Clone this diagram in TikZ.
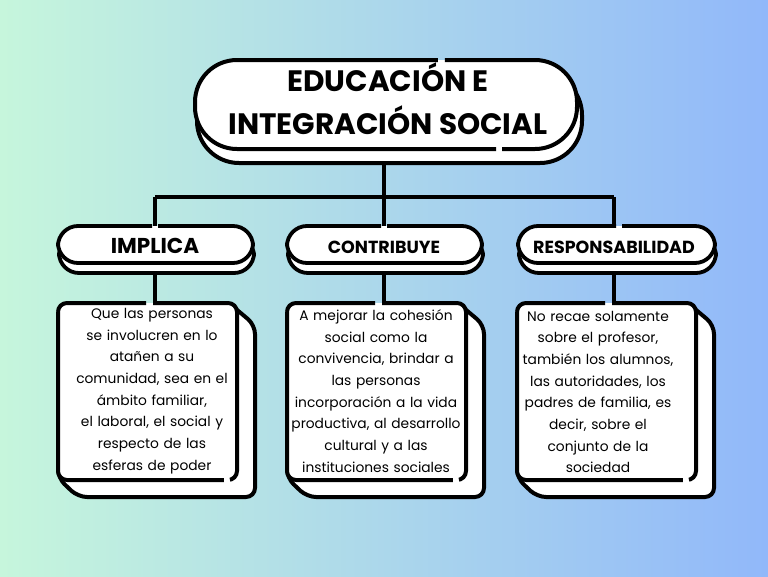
\documentclass[tikz,border=0pt]{standalone}
\usepackage{fontspec}
\setmainfont{Poppins}
\begin{document}
\begin{tikzpicture}[x=1pt,y=-1pt,
  edge/.style={line width=3.5pt},
  pill/.style={draw,fill=white,line width=3.8pt,rounded corners=20pt},
  bigpill/.style={draw,fill=white,line width=4pt,rounded corners=42pt},
  card/.style={draw,fill=white,line width=4pt,rounded corners=9pt},
  gapped/.style={dash pattern=on 330pt off 6pt on 260pt off 7pt on 400pt off 6pt},
  title/.style={font=\bfseries\fontsize{29.5}{43}\selectfont,align=center},
  head/.style={font=\bfseries\fontsize{17.5}{19}\selectfont},
  body/.style={font=\fontsize{13.8}{21.7}\selectfont,align=center,text width=200pt}]
\useasboundingbox (0,0) rectangle (768,576);
\shade[left color={rgb,255:red,198;green,246;blue,220},right color={rgb,255:red,145;green,184;blue,250}] (0,0) rectangle (768,576);

% title
\draw[bigpill] (197,73) rectangle (582,163);
\draw[bigpill,gapped] (195,60) rectangle (577,149);
\node[title] (t) at (388,99) {EDUCACIÓN E\\INTEGRACIÓN SOCIAL};
\coordinate (tb) at (384,165);

% level 2
\draw[pill] (59,236) rectangle (254,273);
\draw[pill,gapped] (58,226) rectangle (253,263);
\node[head,font=\bfseries\fontsize{21.5}{23}\selectfont] (h1) at (155,246) {IMPLICA};
\draw[pill] (288,236) rectangle (483,273);
\draw[pill,gapped] (287,226) rectangle (482,263);
\node[head] (h2) at (384,247) {CONTRIBUYE};
\draw[pill] (519,236) rectangle (716,273);
\draw[pill,gapped] (518,226) rectangle (715,263);
\node[head] (h3) at (614,247) {RESPONSABILIDAD};

\coordinate (j) at (384,197);
\coordinate (j1) at (155,197);
\coordinate (j3) at (614,197);
\draw[edge] (tb) -- (j);
\draw[edge] (j1) -- (j3);
\draw[edge] (j1) -- (155,226);
\draw[edge] (j) -- (384,226);
\draw[edge] (j3) -- (614,226);

% level 3 cards
\foreach \x/\nm in {58/c1,287/c2,517/c3}{
  \draw[card] (\x+172,304) -- (\x+197,325) -- (\x+197,497) -- (\x+20,497) -- (\x,478) -- (\x,400) -- cycle;
  \draw[card,gapped] (\x,303) rectangle (\x+179,480);
}
\draw[edge] (155,273) -- (155,303);
\draw[edge] (384,273) -- (384,303);
\draw[edge] (614,273) -- (614,303);

\node[body] (b1) at (152,391) {Que las personas\\se involucren en lo\\atañen a su\\comunidad, sea en el\\ámbito familiar,\\el laboral, el social y\\respecto de las\\esferas de poder};
\node[body] (b2) at (376,391) {A mejorar la cohesión\\social como la\\convivencia, brindar a\\las personas\\incorporación a la vida\\productiva, al desarrollo\\cultural y a las\\instituciones sociales};
\node[body] (b3) at (598,392) {No recae solamente\\sobre el profesor,\\también los alumnos,\\las autoridades, los\\padres de familia, es\\decir, sobre el\\conjunto de la\\sociedad};
\end{tikzpicture}
\end{document}
